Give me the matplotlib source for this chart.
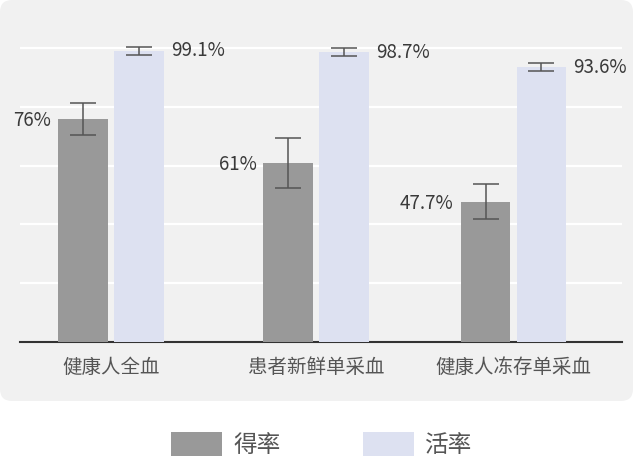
import numpy as np
import matplotlib
matplotlib.use("Agg")
import matplotlib.pyplot as plt
from matplotlib.patches import FancyBboxPatch

plt.rcParams['font.family'] = ['Noto Sans CJK SC', 'DejaVu Sans']

# données
categories = ["健康人全血", "患者新鲜单采血", "健康人冻存单采血"]
series_names = ["得率", "活率"]
yield_vals = [76, 61, 47.7]
yield_err = [5.5, 8.5, 6.0]
viab_vals = [99.1, 98.7, 93.6]
viab_err = [1.4, 1.5, 1.2]
yield_labels = ["76%", "61%", "47.7%"]
viab_labels = ["99.1%", "98.7%", "93.6%"]

c_gray = "#999999"
c_lav = "#dde1f1"
c_text = "#3a3a3a"

fig = plt.figure(figsize=(6.4, 4.58), dpi=100)
fig.patch.set_facecolor("white")

# panneau gris arrondi
panel = FancyBboxPatch((0.12, 0.69), 6.09, 3.77,
                       boxstyle="round,pad=0.12",
                       transform=fig.dpi_scale_trans,
                       facecolor="#f1f1f1", edgecolor="none", zorder=-1)
fig.patches.append(panel)

ax = fig.add_axes([20 / 640, 116 / 458, 602 / 640, 307 / 458])
ax.set_facecolor("none")

x = np.array([0, 1.02, 2])
w = 0.248
off = 0.139

err_kw = dict(ecolor="#555555", elinewidth=1.1, capsize=9.7, capthick=1.1)
b1 = ax.bar(x - off, yield_vals, w, color=c_gray, yerr=yield_err,
            error_kw=err_kw, label=series_names[0], zorder=3)
b2 = ax.bar(x + off, viab_vals, w, color=c_lav, yerr=viab_err,
            error_kw=err_kw, label=series_names[1], zorder=3)

for xi, v, t in zip(x, yield_vals, yield_labels):
    ax.annotate(t, (xi - off - w / 2, v), xytext=(-5, -1), textcoords="offset points",
                ha="right", va="center", fontsize=13.5, color=c_text)
for xi, v, t in zip(x, viab_vals, viab_labels):
    ax.annotate(t, (xi + off + w / 2, v), xytext=(5, 0), textcoords="offset points",
                ha="left", va="center", fontsize=13.5, color=c_text)

ax.set_xlim(-0.452, 2.539)
ax.set_ylim(0, 104.5)
ax.set_yticks(np.arange(20, 101, 20))
ax.yaxis.grid(True, color="white", linewidth=1.6, zorder=1)
ax.set_axisbelow(True)
ax.tick_params(axis="y", left=False, labelleft=False)
ax.tick_params(axis="x", bottom=False, pad=7)
ax.set_xticks(x)
ax.set_xticklabels(categories, fontsize=14, color="#555555")
for s in ("top", "right", "left"):
    ax.spines[s].set_visible(False)
ax.spines["bottom"].set_color("#333333")
ax.spines["bottom"].set_linewidth(1.5)

fig.legend(handles=[b1, b2], labels=series_names, loc="lower center",
           bbox_to_anchor=(0.503, -0.044), ncol=2, frameon=False,
           fontsize=17, labelcolor="#555555",
           handlelength=2.16, handleheight=1.19, handletextpad=0.47,
           columnspacing=3.5)

fig.savefig("out.png", dpi=100)
